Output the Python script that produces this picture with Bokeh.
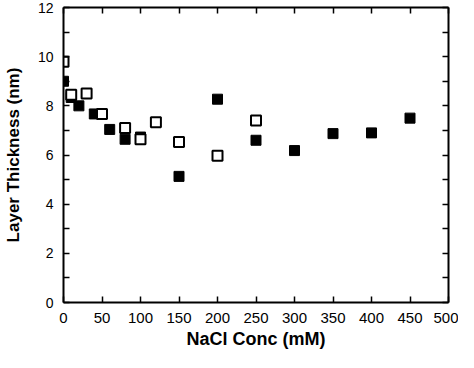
from bokeh.plotting import figure
from bokeh.models import LinearAxis, FixedTicker, Range1d
from bokeh.embed import file_html
from bokeh.resources import INLINE

# Data
filled_x = [0, 10, 20, 40, 60, 80, 100, 150, 200, 250, 300, 350, 400, 450]
filled_y = [9.0, 8.34, 8.0, 7.67, 7.04, 6.64, 6.73, 5.13, 8.27, 6.6, 6.18, 6.87, 6.9, 7.5]
open_x = [0, 10, 30, 50, 80, 100, 120, 150, 200, 250]
open_y = [9.79, 8.45, 8.5, 7.67, 7.1, 6.64, 7.33, 6.53, 5.97, 7.4]
x_ticks = [0, 50, 100, 150, 200, 250, 300, 350, 400, 450, 500]
y_ticks = [0, 2, 4, 6, 8, 10, 12]
y_minor = [1, 3, 5, 7, 9, 11]

FONT = "Liberation Sans"

p = figure(width=458, height=352, output_backend="svg", toolbar_location=None,
           x_range=Range1d(0, 500), y_range=Range1d(0, 12),
           min_border_left=60, min_border_right=10, min_border_top=7, min_border_bottom=50,
           x_axis_location=None, y_axis_location=None)
p.grid.visible = False
p.outline_line_color = None
p.background_fill_color = "white"
p.border_fill_color = "white"

def style(ax, size="14px"):
    ax.axis_line_width = 2
    ax.axis_line_color = "black"
    ax.major_tick_in = 6
    ax.major_tick_out = 0
    ax.major_tick_line_width = 1.5
    ax.major_tick_line_color = "black"
    ax.minor_tick_in = 6
    ax.minor_tick_out = 0
    ax.minor_tick_line_width = 1.5
    ax.minor_tick_line_color = "black"
    ax.major_label_text_font = FONT
    ax.major_label_text_font_size = size
    ax.major_label_text_color = "black"
    ax.axis_label_text_color = "black"

def hide_labels(ax, ticks):
    ax.major_label_overrides = {t: "" for t in ticks}
    ax.major_label_standoff = 0
    ax.major_label_text_font_size = "0px"

def xticker():
    return FixedTicker(ticks=x_ticks, minor_ticks=[])

def yticker():
    return FixedTicker(ticks=y_ticks, minor_ticks=y_minor)

bx = LinearAxis(ticker=xticker(), axis_label="NaCl Conc (mM)")
style(bx, "15px")
bx.major_label_standoff = 10
bx.axis_label_standoff = 3
bx.axis_label_text_font = FONT
bx.axis_label_text_font_style = "bold"
bx.axis_label_text_font_size = "18px"
p.add_layout(bx, "below")

ly = LinearAxis(ticker=yticker(), axis_label="Layer Thickness (nm)")
style(ly, "14px")
ly.major_label_standoff = 10
ly.axis_label_standoff = 12
ly.axis_label_text_font = FONT
ly.axis_label_text_font_style = "bold"
ly.axis_label_text_font_size = "17px"
p.add_layout(ly, "left")

tx = LinearAxis(ticker=xticker())
style(tx)
hide_labels(tx, x_ticks)
p.add_layout(tx, "above")

ry = LinearAxis(ticker=yticker())
style(ry)
hide_labels(ry, y_ticks)
p.add_layout(ry, "right")

p.scatter(filled_x, filled_y, marker="square", size=10, fill_color="black",
          line_color="black", line_width=1)
p.scatter(open_x, open_y, marker="square", size=10, fill_color="white",
          line_color="black", line_width=2)

open("out.html", "w").write(file_html(p, INLINE))
